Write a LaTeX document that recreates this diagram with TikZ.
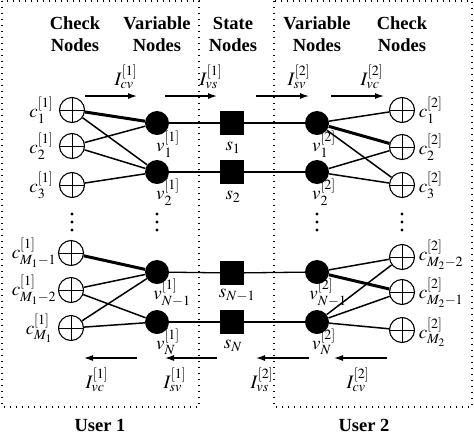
\documentclass[tikz,border=0pt]{standalone}
\usepackage{mathptmx}
\usepackage{fontspec}
\setmainfont{Liberation Serif}
\usetikzlibrary{arrows.meta,calc}

\tikzset{
  chk/.style={circle, draw, line width=1.1pt, minimum size=25pt, inner sep=0pt,
    path picture={\draw[line width=0.9pt]
      (path picture bounding box.north) -- (path picture bounding box.south)
      (path picture bounding box.west) -- (path picture bounding box.east);}},
  var/.style={circle, fill=black, minimum size=24pt, inner sep=0pt},
  st/.style={rectangle, fill=black, minimum size=24pt, inner sep=0pt},
  edge/.style={line width=1.5pt},
  bold edge/.style={line width=3pt},
  flow/.style={-{Latex[length=9pt,width=6pt]}, line width=1.2pt},
  user/.style={dash pattern=on 1.3pt off 4.7pt, line width=1.3pt},
  head/.style={font=\fontsize{18.5}{22}\selectfont\bfseries, align=center},
  lab/.style={font=\fontsize{19}{22}\selectfont, inner sep=0.5pt},
}

\begin{document}
\begin{tikzpicture}[x=1pt, y=-1pt, >=latex]
    \useasboundingbox (0,0) rectangle (474,437);

    % user boxes
    \draw[user] (2,1) rectangle (199,407);
    \draw[user] (274,1) rectangle (472,407);
    \node[head, anchor=base, inner sep=0pt] (user1) at (100,431) {User 1};
    \node[head, anchor=base, inner sep=0pt] (user2) at (364,431) {User 2};

    % column headers
    \node[head] (h1) at (75,34) {Check\\Nodes};
    \node[head] (h2) at (157,34) {Variable\\Nodes};
    \node[head] (h3) at (233,34) {State\\Nodes};
    \node[head] (h4) at (317,34) {Variable\\Nodes};
    \node[head] (h5) at (402,34) {Check\\Nodes};

    % user 1: check nodes
    \node[chk] (c11) at (72,110) {};
    \node[chk] (c12) at (72,146) {};
    \node[chk] (c13) at (72,185) {};
    \node[chk] (c1a) at (71,253) {};
    \node[chk] (c1b) at (71,290) {};
    \node[chk] (c1c) at (71,328) {};
    % user 1: variable nodes
    \node[var] (v11) at (157,123) {};
    \node[var] (v12) at (157,172) {};
    \node[var] (v1a) at (157,272) {};
    \node[var] (v1b) at (157,322) {};
    % state nodes
    \node[st] (s1) at (232,123) {};
    \node[st] (s2) at (232,172) {};
    \node[st] (s3) at (232,273) {};
    \node[st] (s4) at (232,322) {};
    % user 2: variable nodes
    \node[var] (v21) at (317,123) {};
    \node[var] (v22) at (317,172) {};
    \node[var] (v2a) at (317,272) {};
    \node[var] (v2b) at (317,322) {};
    % user 2: check nodes
    \node[chk] (c21) at (402,110) {};
    \node[chk] (c22) at (402,147) {};
    \node[chk] (c23) at (402,185) {};
    \node[chk] (c2a) at (402,257) {};
    \node[chk] (c2b) at (402,292) {};
    \node[chk] (c2c) at (402,330) {};

    % vertical dots
    \foreach \x in {72,157,317,402}
        \foreach \y in {214,222,230}
            \fill (\x,\y) circle (1.7pt);

    % check-variable edges, user 1
    \draw[bold edge] (c11) -- (v11);
    \foreach \a/\b in {c11/v12, c12/v11, c12/v12, c13/v12}
        \draw[edge] (\a) -- (\b);
    \draw[bold edge] (c1a) -- (v1a);
    \foreach \a/\b in {c1b/v1a, c1b/v1b, c1c/v1a, c1c/v1b}
        \draw[edge] (\a) -- (\b);
    % check-variable edges, user 2
    \draw[bold edge] (v21) -- (c22);
    \foreach \a/\b in {v21/c21, v21/c23, v22/c22, v22/c23}
        \draw[edge] (\a) -- (\b);
    \draw[bold edge] (v2a) -- (c2b);
    \foreach \a/\b in {v2a/c2a, v2b/c2a, v2b/c2b, v2b/c2c}
        \draw[edge] (\a) -- (\b);

    % variable-state links
    \foreach \i/\j/\k in {v11/s1/v21, v12/s2/v22, v1a/s3/v2a, v1b/s4/v2b}
        \draw[line width=1.3pt] (\i) -- (\j) -- (\k);

    % labels of check nodes
    \node[lab, anchor=east] (lc11) at ([xshift=-5pt]c11.west) {$c_1^{[1]}$};
    \node[lab, anchor=east] (lc12) at ([xshift=-5pt]c12.west) {$c_2^{[1]}$};
    \node[lab, anchor=east] (lc13) at ([xshift=-5pt]c13.west) {$c_3^{[1]}$};
    \node[lab, anchor=east] (lc1a) at ([xshift=-1pt]c1a.west) {$c_{M_1-1}^{[1]}$};
    \node[lab, anchor=east] (lc1b) at ([xshift=-1pt]c1b.west) {$c_{M_1-2}^{[1]}$};
    \node[lab, anchor=east] (lc1c) at ([xshift=-5pt]c1c.west) {$c_{M_1}^{[1]}$};
    \node[lab, anchor=west] (lc21) at ([xshift=3pt]c21.east) {$c_1^{[2]}$};
    \node[lab, anchor=west] (lc22) at ([xshift=3pt]c22.east) {$c_2^{[2]}$};
    \node[lab, anchor=west] (lc23) at ([xshift=3pt]c23.east) {$c_3^{[2]}$};
    \node[lab, anchor=west] (lc2a) at ([xshift=3pt,yshift=2pt]c2a.east) {$c_{M_2-2}^{[2]}$};
    \node[lab, anchor=west] (lc2b) at ([xshift=3pt,yshift=-1pt]c2b.east) {$c_{M_2-1}^{[2]}$};
    \node[lab, anchor=west] (lc2c) at ([xshift=3pt,yshift=-2pt]c2c.east) {$c_{M_2}^{[2]}$};

    % labels of variable and state nodes
    \node[lab] (lv11) at (168,144) {$v_1^{[1]}$};
    \node[lab] (lv12) at (168,192) {$v_2^{[1]}$};
    \node[lab] (lv1a) at (172,293) {$v_{N-1}^{[1]}$};
    \node[lab] (lv1b) at (168,342) {$v_N^{[1]}$};
    \node[lab] (lv21) at (324,144) {$v_1^{[2]}$};
    \node[lab] (lv22) at (324,192) {$v_2^{[2]}$};
    \node[lab] (lv2a) at (328,293) {$v_{N-1}^{[2]}$};
    \node[lab] (lv2b) at (324,342) {$v_N^{[2]}$};
    \node[lab] (ls1) at (233,148) {$s_1$};
    \node[lab] (ls2) at (233,197) {$s_2$};
    \node[lab] (ls3) at (237,295) {$s_{N-1}$};
    \node[lab] (ls4) at (233,346) {$s_N$};

    % information flow
    \coordinate (f1a) at (85,96);   \coordinate (f1b) at (137,96);
    \coordinate (f2a) at (165,96);  \coordinate (f2b) at (217,96);
    \coordinate (f3a) at (256,96);  \coordinate (f3b) at (309,96);
    \coordinate (f4a) at (331,96);  \coordinate (f4b) at (384,96);
    \coordinate (b1a) at (137,358); \coordinate (b1b) at (84,358);
    \coordinate (b2a) at (217,358); \coordinate (b2b) at (165,358);
    \coordinate (b3a) at (309,358); \coordinate (b3b) at (256,358);
    \coordinate (b4a) at (387,358); \coordinate (b4b) at (334,358);
    \foreach \p in {f1,f2,f3,f4,b1,b2,b3,b4}
        \draw[flow] (\p a) -- (\p b);

    \node[lab] (i1) at (126,77) {$I_{cv}^{[1]}$};
    \node[lab] (i2) at (211,77) {$I_{vs}^{[1]}$};
    \node[lab] (i3) at (299,77) {$I_{sv}^{[2]}$};
    \node[lab] (i4) at (372,77) {$I_{vc}^{[2]}$};
    \node[lab] (i5) at (97,380) {$I_{vc}^{[1]}$};
    \node[lab] (i6) at (175,380) {$I_{sv}^{[1]}$};
    \node[lab] (i7) at (262,380) {$I_{vs}^{[2]}$};
    \node[lab] (i8) at (358,380) {$I_{cv}^{[2]}$};
\end{tikzpicture}
\end{document}
